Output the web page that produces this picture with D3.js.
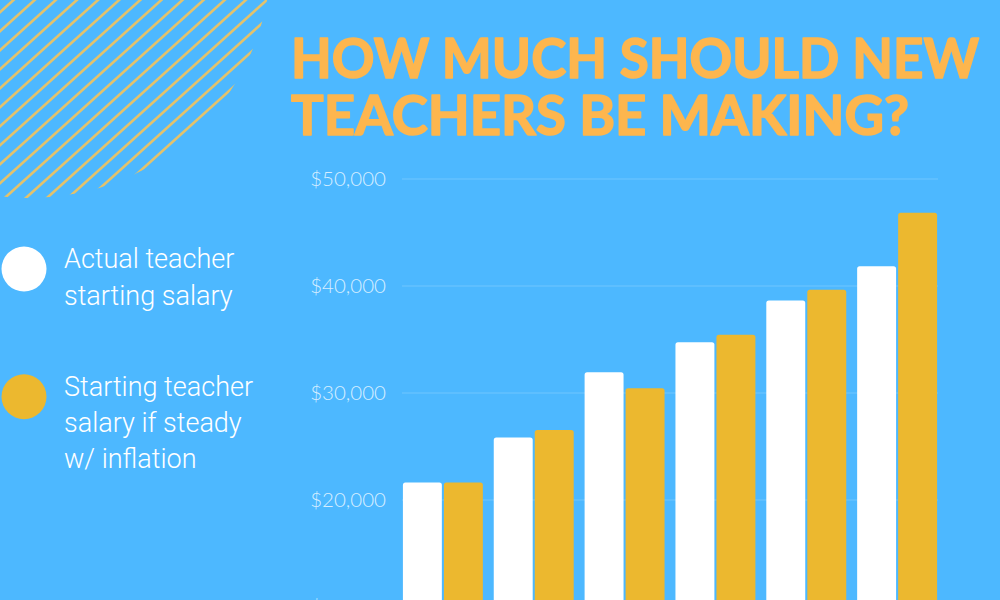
<!DOCTYPE html>
<html>
<head>
<meta charset="utf-8">
<script src="https://cdn.jsdelivr.net/npm/d3@7"></script>
<style>
  html, body { margin: 0; padding: 0; background: #4db8ff; overflow: hidden; }
  svg { display: block; }
</style>
</head>
<body>
<svg id="chart" width="1000" height="600"></svg>
<script>
// categories are below the visible area in the picture
const categories = ["Group 1", "Group 2", "Group 3", "Group 4", "Group 5", "Group 6"];
const actualSalary = [21600, 25800, 31900, 34700, 38600, 41800];
const inflationSalary = [21600, 26500, 30400, 35400, 39600, 46800];
const seriesKeys = ["actual", "inflation"];
const yTicks = [0, 10000, 20000, 30000, 40000, 50000];
const titleLines = ["HOW MUCH SHOULD NEW", "TEACHERS BE MAKING?"];
const legendLines = [
    ["Actual teacher", "starting salary"],
    ["Starting teacher", "salary if steady", "w/ inflation"]
];

const colors = { actual: "#ffffff", inflation: "#ecb82f" };

let svg = d3.select("#chart");

/* decorative stripes in the top-left corner */
let defs = svg.append("defs");
defs.append("clipPath").attr("id", "stripeClip")
    .append("circle").attr("cx", 30).attr("cy", -43).attr("r", 241);

let stripes = svg.append("g").attr("clip-path", "url(#stripeClip)");
for (let c = 240.2 - 19 * 14; c < 560; c += 19) {
    // line y = c - 0.9 x
    stripes.append("line")
        .attr("x1", -20).attr("y1", c + 18)
        .attr("x2", 300).attr("y2", c - 270)
        .attr("stroke", "#e3c26c")
        .attr("stroke-width", 2.6)
        .attr("stroke-linecap", "round");
}

/* title - Lato bold thickened with a stroke to get the heavy geometric look */
let title = svg.append("g")
    .attr("font-family", "Lato, sans-serif")
    .attr("font-weight", 700)
    .attr("font-size", 55)
    .attr("fill", "#fdb64e")
    .attr("stroke", "#fdb64e")
    .attr("stroke-width", 1.6)
    .attr("stroke-linejoin", "round");
title.append("text").attr("x", 291).attr("y", 78)
    .attr("textLength", 688).attr("lengthAdjust", "spacingAndGlyphs")
    .text(titleLines[0]);
title.append("text").attr("x", 291).attr("y", 134.5)
    .attr("textLength", 618).attr("lengthAdjust", "spacingAndGlyphs")
    .text(titleLines[1]);

/* scales */
let xScale = d3.scaleBand()
    .domain(categories)
    .range([402, 938])
    .paddingInner(0.12)
    .paddingOuter(0.01);

let xInner = d3.scaleBand()
    .domain(seriesKeys)
    .range([0, xScale.bandwidth()])
    .paddingInner(0.05);

let yScale = d3.scaleLinear()
    .domain([0, 50000])
    .range([713.5, 178.5]);

/* axis with gridlines */
let axis = svg.append("g")
    .attr("transform", "translate(402,0)")
    .call(d3.axisLeft(yScale)
        .tickValues(yTicks)
        .tickSize(-(938 - 402))
        .tickPadding(16)
        .tickFormat(d3.format("$,")));
axis.select(".domain").remove();
axis.selectAll(".tick line")
    .attr("stroke", "#ffffff")
    .attr("stroke-opacity", 0.2);
axis.selectAll(".tick text")
    .attr("fill", "#d6eeff")
    .attr("font-family", "Lato, sans-serif")
    .attr("font-weight", 300)
    .attr("font-size", 20.5);

/* bars */
let rows = categories.map((c, i) => ({ cat: c, actual: actualSalary[i], inflation: inflationSalary[i] }));

let groups = svg.append("g").selectAll("g")
    .data(rows).enter()
    .append("g")
    .attr("transform", d => "translate(" + xScale(d.cat) + ",0)");

groups.selectAll("rect")
    .data(d => seriesKeys.map(k => ({ key: k, value: d[k] })))
    .enter()
    .append("rect")
    .attr("x", d => xInner(d.key))
    .attr("width", xInner.bandwidth())
    .attr("y", d => yScale(d.value))
    .attr("height", d => yScale(0) - yScale(d.value))
    .attr("rx", 2.5)
    .attr("fill", d => colors[d.key]);

/* legend */
let legend = svg.append("g");
let legendY = [269, 396.7];
seriesKeys.forEach((k, i) => {
    legend.append("circle")
        .attr("cx", 24).attr("cy", legendY[i]).attr("r", 22.5)
        .attr("fill", colors[k]);
    let t = legend.append("text")
        .attr("font-family", "Roboto, sans-serif")
        .attr("font-weight", 300)
        .attr("font-size", 27)
        .attr("fill", "#ffffff");
    legendLines[i].forEach((line, j) => {
        t.append("tspan")
            .attr("x", 64)
            .attr("y", legendY[i] - 0.7 + j * 36.2)
            .text(line);
    });
});
</script>
</body>
</html>
